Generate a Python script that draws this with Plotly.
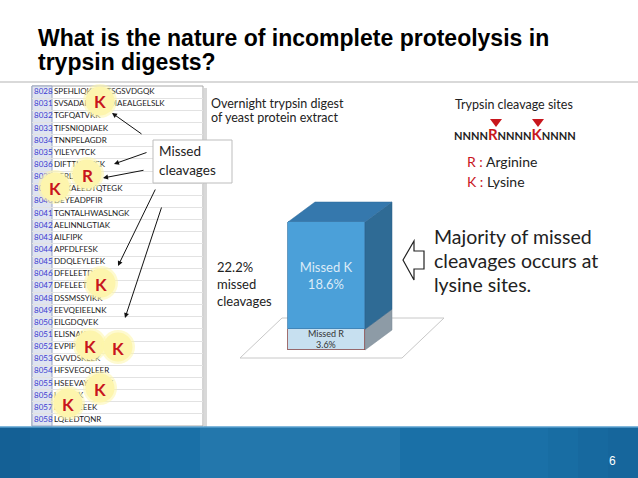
import plotly.graph_objects as go

W, H = 638, 478

# data
row_ids = ['8028', '8031', '8032', '8033', '8034', '8035', '8036', '8037', '8038',
           '8040', '8041', '8042', '8043', '8044', '8045', '8046', '8047', '8048',
           '8049', '8050', '8051', '8052', '8053', '8054', '8055', '8056', '8057', '8058']
peptides = ['SPEHLIQKGTSTSGSVDGQK', 'SVSADAKLTTDDIAEALGELSLK', 'TGFQATVKK', 'TIFSNIQDIAEK',
            'TNNPELAGDR', 'YILEYVTCK', 'DIFTTKLSTCK', 'AERLTQAK', 'AQKAEEDTQTEGK',
            'DEYEADPFIR', 'TGNTALHWASLNGK', 'AELINNLGTIAK', 'AILFIPK', 'APFDLFESK',
            'DDQLEYLEEK', 'DFELEETDK', 'DFELEETKEK', 'DSSMSSYIKK', 'EEVQEIEELNK',
            'EILGDQVEK', 'ELISNAKK', 'EVPIPKLDEEK', 'GVVDSKLEK', 'HFSVEGQLEER',
            'HSEEVAYKDLTK', 'LAKEEK', 'LEKQLEEEK', 'LQEEDTQNR']
bar_labels = ['Missed R', 'Missed K']
bar_values = [3.6, 18.6]
total_missed = 22.2
circle_letters = ['K', 'R', 'K', 'K', 'K', 'K', 'K', 'K']

RED = '#c8161d'
BODY = 'Lato'


def px(x):
    return x / W


def py(y):
    return 1 - y / H


fig = go.Figure()

# ---- table of peptides (its own axes, one row per unit)
n = len(row_ids)
fig.add_trace(go.Scatter(
    x=[2] * n, y=list(range(n)), text=row_ids, mode='text',
    textposition='middle right', textfont={'size': 8, 'color': '#3a3ad0', 'family': BODY},
    xaxis='x2', yaxis='y2', hoverinfo='skip', showlegend=False))
fig.add_trace(go.Scatter(
    x=[22] * n, y=list(range(n)), text=peptides, mode='text',
    textposition='middle right', textfont={'size': 8, 'color': '#222222', 'family': BODY},
    xaxis='x2', yaxis='y2', hoverinfo='skip', showlegend=False))

# ---- stacked bar, front faces
fig.add_trace(go.Bar(
    x=[0], y=[bar_values[0]], width=1, name=bar_labels[0],
    marker={'color': '#c7e0f0', 'line': {'color': '#8a4a4a', 'width': 0.8}},
    text=[f'{bar_labels[0]}<br>{bar_values[0]}%'], textposition='inside',
    insidetextanchor='middle', constraintext='none', textangle=0,
    textfont={'size': 9, 'color': '#333333', 'family': BODY}, showlegend=False))
fig.add_trace(go.Bar(
    x=[0], y=[bar_values[1]], width=1, name=bar_labels[1],
    marker={'color': '#4ba0d9', 'line': {'color': '#3f7fb0', 'width': 0.8}},
    text=[f'{bar_labels[1]}<br>{bar_values[1]}%'], textposition='inside',
    insidetextanchor='middle', constraintext='none', textangle=0,
    textfont={'size': 13, 'color': '#dcebf7', 'family': BODY}, showlegend=False))

# bar axes: 0% sits at y=350px, 22.2% at y=222px
unit = (350 - 222) / total_missed
y_lo, y_hi = (350 - 370) / unit, (350 - 190) / unit
xu = 77.0
x_lo = -0.5 - (288 - 230) / xu
x_hi = x_lo + 220 / xu
dx, dy = 27 / xu, 20 / unit

shapes = []
# floor plane (drawn in bar coordinates)
fl = [(240, 358), (402, 358), (444, 318), (282, 318)]
fpath = 'M ' + ' L '.join(f'{(a - 288) / xu - 0.5},{(350 - b) / unit}' for a, b in fl) + ' Z'
shapes.append(dict(type='path', path=fpath, xref='x', yref='y', layer='below',
                   line={'color': '#c8c8c8', 'width': 1}, fillcolor='rgba(255,255,255,0)'))

vr = bar_values[0]
vt = bar_values[0] + bar_values[1]
x0, x1 = -0.5, 0.5


def poly(pts):
    return 'M ' + ' L '.join(f'{a},{b}' for a, b in pts) + ' Z'


shapes.append(dict(type='path', xref='x', yref='y', layer='below',
                   path=poly([(x1, 0), (x1 + dx, dy), (x1 + dx, vr + dy), (x1, vr)]),
                   fillcolor='#8d9ba6', line={'color': '#7a8894', 'width': 0.5}))
shapes.append(dict(type='path', xref='x', yref='y', layer='below',
                   path=poly([(x1, vr), (x1 + dx, vr + dy), (x1 + dx, vt + dy), (x1, vt)]),
                   fillcolor='#2f6b95', line={'color': '#2a5f86', 'width': 0.5}))
shapes.append(dict(type='path', xref='x', yref='y', layer='below',
                   path=poly([(x0, vt), (x0 + dx, vt + dy), (x1 + dx, vt + dy), (x1, vt)]),
                   fillcolor='#3578ad', line={'color': '#2f6b9b', 'width': 0.5}))

# ---- slide decoration in pixel space


def rect(x0_, y0_, x1_, y1_, **kw):
    d = dict(type='rect', xref='paper', yref='paper', x0=px(x0_), x1=px(x1_),
             y0=py(y1_), y1=py(y0_))
    d.update(kw)
    return d


def ppath(pts, **kw):
    d = dict(type='path', xref='paper', yref='paper',
             path='M ' + ' L '.join(f'{px(a)},{py(b)}' for a, b in pts) + ' Z')
    d.update(kw)
    return d


# title rule
shapes.append(dict(type='line', xref='paper', yref='paper', x0=0, x1=1, y0=py(82), y1=py(82),
                   line={'color': '#d9d9d9', 'width': 2}, layer='below'))
# table background & borders
shapes.append(rect(204, 88, 207, 428, fillcolor='#d8d8d8', line={'width': 0}, layer='below'))
shapes.append(rect(32, 86, 203, 426, fillcolor='white', line={'color': '#a8a8a8', 'width': 1}, layer='below'))
shapes.append(rect(32, 86, 52, 426, fillcolor='#dfe4f0', line={'color': '#9aa6c4', 'width': 1}, layer='below'))

# yellow highlight circles
circles = [(100, 101), (87, 174), (55, 187), (101, 283), (90, 345), (118, 347), (100, 388), (68, 403)]
for cx, cy in circles:
    shapes.append(dict(type='circle', xref='paper', yref='paper', x0=px(cx - 17), x1=px(cx + 17),
                       y0=py(cy + 17), y1=py(cy - 17), fillcolor='rgba(253,246,170,0.55)',
                       line={'width': 0}, layer='above'))
    shapes.append(dict(type='circle', xref='paper', yref='paper', x0=px(cx - 14.5), x1=px(cx + 14.5),
                       y0=py(cy + 14.5), y1=py(cy - 14.5), fillcolor='#fdf5ad',
                       line={'width': 0}, layer='above'))

# callout box
shapes.append(rect(153, 140, 232, 183, fillcolor='white', line={'color': '#bdbdbd', 'width': 1}, layer='above'))

# cleavage-site triangles
for tx in (496, 538):
    shapes.append(ppath([(tx - 6, 119), (tx + 6, 119), (tx, 127)], fillcolor=RED, line={'width': 0}))

# hollow left arrow
shapes.append(ppath([(403, 260), (414, 241), (414, 251), (424, 251), (424, 269), (414, 269), (414, 280)],
                    fillcolor='white', line={'color': '#222222', 'width': 1.2}))

# footer band
shapes.append(rect(0, 427, 638, 478, fillcolor='#1a70a7', line={'width': 0}))
for i, a in enumerate([0.30, 0.24, 0.18, 0.12, 0.06]):
    shapes.append(rect(i * 30, 427, i * 30 + 30, 478, fillcolor=f'rgba(8,60,110,{a})', line={'width': 0}))
for i, a in enumerate([0.06, 0.12, 0.18]):
    shapes.append(rect(548 + i * 30, 427, 578 + i * 30, 478, fillcolor=f'rgba(8,60,110,{a})', line={'width': 0}))
shapes.append(rect(200, 427, 400, 478, fillcolor='rgba(110,170,215,0.12)', line={'width': 0}))
shapes.append(dict(type='line', xref='paper', yref='paper', x0=0, x1=1, y0=py(427), y1=py(427),
                   line={'color': '#5aa0cf', 'width': 1.5}))

ann = []


def text(x, y, s, size, color='#222222', family=BODY, xanchor='left', **kw):
    d = dict(x=px(x), y=py(y), xref='paper', yref='paper', text=s, showarrow=False,
             xanchor=xanchor, yanchor='middle', align='left',
             font={'size': size, 'color': color, 'family': family})
    d.update(kw)
    ann.append(d)


text(36, 38, '<b>What is the nature of incomplete proteolysis in</b>', 23, '#000000', 'Liberation Sans')
text(36, 62, '<b>trypsin digests?</b>', 23, '#000000', 'Liberation Sans')

text(209, 103, 'Overnight trypsin digest', 12.5)
text(209, 117, 'of yeast protein extract', 12.5)
text(453, 104, 'Trypsin cleavage sites', 12.5)
seq = '<b>NNNN<span style="color:%s;font-size:15px">R</span>NNNN<span style="color:%s;font-size:15px">K</span>NNNN</b>' % (RED, RED)
text(452, 134, seq, 11)
text(465, 162, f'<span style="color:{RED}">R :</span> Arginine', 14)
text(465, 182, f'<span style="color:{RED}">K :</span> Lysine', 14)

text(157, 151, 'Missed', 13.5)
text(157, 170, 'cleavages', 13.5)

text(215, 267, f'{total_missed}%', 13)
text(215, 284, 'missed', 13)
text(215, 301, 'cleavages', 13)

text(432, 236, 'Majority of missed', 19.5)
text(432, 260, 'cleavages occurs at', 19.5)
text(432, 284, 'lysine sites.', 19.5)

text(612, 461, '6', 12, 'white', 'Liberation Sans', xanchor='center')

for (cx, cy), letter in zip(circles, circle_letters):
    text(cx, cy + 1, f'<b>{letter}</b>', 17, RED, xanchor='center')

# arrows from the callout to the highlighted residues
arrows = [((143, 135), (112, 113)), ((148, 152), (114, 164)), ((145, 170), (103, 178)),
          ((156, 188), (118, 266)), ((162, 206), (125, 318))]
for (sx, sy), (tx, ty) in arrows:
    ann.append(dict(x=px(tx), y=py(ty), xref='paper', yref='paper', text='', showarrow=True,
                    ax=sx - tx, ay=sy - ty, arrowhead=2, arrowsize=1, arrowwidth=1,
                    arrowcolor='#111111'))

fig.update_layout(
    width=W, height=H, autosize=False,
    margin={'l': 0, 'r': 0, 't': 0, 'b': 0},
    paper_bgcolor='white', plot_bgcolor='rgba(0,0,0,0)',
    barmode='stack', bargap=0,
    showlegend=False,
    shapes=shapes, annotations=ann,
    xaxis={'domain': [px(230), px(450)], 'range': [x_lo, x_hi], 'visible': False, 'fixedrange': True},
    yaxis={'domain': [py(370), py(190)], 'range': [y_lo, y_hi], 'visible': False, 'fixedrange': True},
    xaxis2={'domain': [px(32), px(203)], 'range': [0, 171], 'visible': False, 'anchor': 'y2'},
    yaxis2={'domain': [py(426), py(86)], 'range': [n - 0.5, -0.5], 'anchor': 'x2',
            'showticklabels': False, 'ticks': '', 'zeroline': False, 'showline': False,
            'tickvals': [i + 0.5 for i in range(n - 1)], 'showgrid': True,
            'gridcolor': '#e2e2e2', 'gridwidth': 1},
)

# drop the page's default body margin so the slide fills the window
fig.write_html('out.html', config={'displayModeBar': False},
               post_script="document.body.style.margin='0px';")
